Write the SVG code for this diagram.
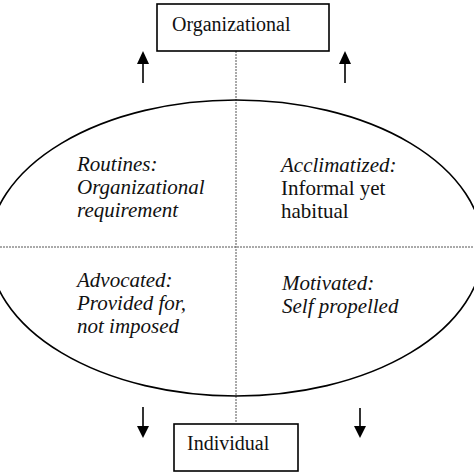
<svg xmlns="http://www.w3.org/2000/svg" width="474" height="474" viewBox="0 0 474 474">
<style>
.box{fill:#fff;stroke:#000;stroke-width:1.6}
.lbl{font-family:"Liberation Serif","Times New Roman",serif;font-size:20px;fill:#111}
.it{font-family:"Liberation Serif","Times New Roman",serif;font-size:21px;font-style:italic;fill:#111}
.rg{font-family:"Liberation Serif","Times New Roman",serif;font-size:21px;fill:#111}
.dot{stroke:#555;stroke-width:1;stroke-dasharray:2 1;fill:none}
.shaft{stroke:#000;stroke-width:1.6;fill:none}
.head{fill:#000}
</style>
<rect width="474" height="474" fill="#fff"/>
<g id="connectors">
<line class="dot" x1="236" y1="51" x2="236" y2="423"/>
<line class="dot" x1="0" y1="247" x2="474" y2="247"/>
<line class="shaft" x1="143" y1="62" x2="143" y2="83"/>
<polygon class="head" points="143,51 137,64 149,64"/>
<line class="shaft" x1="345" y1="62" x2="345" y2="83"/>
<polygon class="head" points="345,51 339,64 351,64"/>
<line class="shaft" x1="143" y1="407" x2="143" y2="428"/>
<polygon class="head" points="143,438 137,426 149,426"/>
<line class="shaft" x1="360" y1="408" x2="360" y2="428"/>
<polygon class="head" points="360,438 354,426 366,426"/>
</g>
<g id="ellipse">
<ellipse cx="236" cy="248" rx="247" ry="148" fill="none" stroke="#000" stroke-width="1.6"/>
</g>
<g id="organizational">
<rect class="box" x="157" y="4" width="172" height="47"/>
<text class="lbl" x="172" y="31">Organizational</text>
</g>
<g id="individual">
<rect class="box" x="174" y="424" width="124" height="47"/>
<text class="lbl" x="187" y="450">Individual</text>
</g>
<g id="routines">
<text class="it" x="77" y="171">Routines:</text>
<text class="it" x="77" y="194">Organizational</text>
<text class="it" x="77" y="217">requirement</text>
</g>
<g id="acclimatized">
<text class="it" x="281" y="172">Acclimatized:</text>
<text class="rg" x="281" y="195">Informal yet</text>
<text class="rg" x="281" y="218">habitual</text>
</g>
<g id="advocated">
<text class="it" x="77" y="287">Advocated:</text>
<text class="it" x="77" y="310">Provided for,</text>
<text class="it" x="77" y="333">not imposed</text>
</g>
<g id="motivated">
<text class="it" x="282" y="290">Motivated:</text>
<text class="it" x="282" y="313">Self propelled</text>
</g>
</svg>
